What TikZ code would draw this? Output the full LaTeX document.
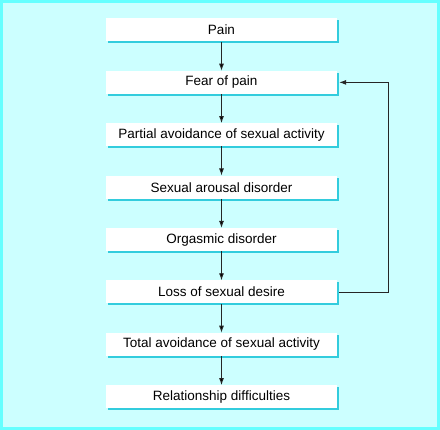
\documentclass[tikz,border=0pt]{standalone}
\usepackage{fontspec}
\setmainfont{Liberation Sans}
\usetikzlibrary{shadows,arrows.meta}
\definecolor{bgcyan}{HTML}{CCFFFF}
\definecolor{framecyan}{HTML}{66FFFF}
\definecolor{shadecyan}{HTML}{33CCDD}
\begin{document}
\begin{tikzpicture}[x=1pt, y=-1pt, >={Latex[length=7pt,width=5pt]},
  stage/.style={fill=white, minimum width=231pt, minimum height=23pt,
    inner sep=0pt, font=\fontsize{13.5}{15}\selectfont,
    drop shadow={shadow xshift=2pt, shadow yshift=-2pt, fill=shadecyan, opacity=1}},
  link/.style={->, line width=0.9pt, draw=black!85}]
\useasboundingbox (0,0) rectangle (440,430);
\fill[bgcyan] (0,0) rectangle (440,430);
\draw[framecyan, line width=3pt] (1.5,1.5) rectangle (438.5,428.5);

\node[stage] (pain)    at (221.5, 30)    {Pain};
\node[stage] (fear)    at (221.5, 82.4)  {Fear of pain};
\node[stage] (partial) at (221.5, 134.8) {Partial avoidance of sexual activity};
\node[stage] (arousal) at (221.5, 187.2) {Sexual arousal disorder};
\node[stage] (orgasm)  at (221.5, 239.6) {Orgasmic disorder};
\node[stage] (desire)  at (221.5, 292)   {Loss of sexual desire};
\node[stage] (total)   at (221.5, 344.4) {Total avoidance of sexual activity};
\node[stage] (rel)     at (221.5, 396.8) {Relationship difficulties};

\coordinate (back) at (388, 0);

\path[link] (pain) edge (fear);
\path[link] (fear) edge (partial);
\path[link] (partial) edge (arousal);
\path[link] (arousal) edge (orgasm);
\path[link] (orgasm) edge (desire);
\path[link] (desire) edge (total);
\path[link] (total) edge (rel);

\draw[link] ([xshift=2pt]desire.east) -| (back |- fear.east) -- ([xshift=2pt]fear.east);
\end{tikzpicture}
\end{document}
